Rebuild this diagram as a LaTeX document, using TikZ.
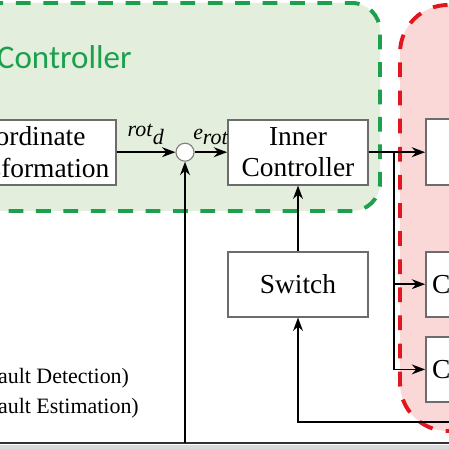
\documentclass[tikz,border=0pt]{standalone}
\usepackage{fontspec}
\setmainfont{Liberation Serif}
\newfontfamily\ctrlfont{Carlito}
\usetikzlibrary{positioning, arrows.meta, shapes.geometric}
\definecolor{ctrlgreen}{RGB}{28,160,78}
\definecolor{ctrlfill}{RGB}{228,238,220}
\definecolor{plantred}{RGB}{226,22,30}
\definecolor{plantfill}{RGB}{251,216,216}
\tikzstyle{block} = [rectangle, minimum width=3.5cm, minimum height=1.625cm, text centered, align=center, draw=gray!85!black, line width=1.2pt, fill=white, font=\fontsize{19.5}{22.7}\selectfont]
\tikzstyle{plantbox} = [block, text width=3.2cm, inner xsep=0.15cm, align=left]
\tikzstyle{sumnode} = [circle, minimum size=0.45cm, inner sep=0pt, draw=gray, line width=0.8pt, fill=white]
\tikzstyle{arrow} = [line width=1.5pt,->,>={Stealth[length=9.5pt,width=7pt]}]
\tikzstyle{thinarrow} = [line width=1.1pt,->,>={Stealth[length=9.5pt,width=7pt]}]
\tikzstyle{note} = [font=\fontsize{15.6}{18}\selectfont]
\tikzstyle{ctrlregion} = [draw=ctrlgreen, fill=ctrlfill, line width=2.8pt, dash pattern=on 10.5pt off 9pt, rounded corners=0.7cm]
\tikzstyle{plantregion} = [draw=plantred, fill=plantfill, line width=2.8pt, dash pattern=on 10.5pt off 9.5pt, rounded corners=1.2cm]
\def\ttx{0.3}

\begin{document}
\begin{tikzpicture}[node distance=3cm]
\useasboundingbox (0,0) rectangle (11.225,11.225);
\clip (0,0) rectangle (11.225,11.225);

% regions
\draw [ctrlregion] (-5,5.95) rectangle (9.5,11.15);
\node (ctrltitle) [anchor=west, text=ctrlgreen, font=\ctrlfont\fontsize{23.5}{27}\selectfont] at (-0.2,9.8) {Controller};
\draw [plantregion] (14,11.1) -- (10,11.1) -- (10,0.45) -- (14,0.45);

\node (sum) [sumnode] at (4.625,7.42) {};
\node (coord) [block, minimum width=4.575cm, left of=sum, xshift=-1.01cm] {Coordinate\\Transformation};
\node (inner) [block, right of=sum, xshift=-0.175cm] {Inner\\Controller};
\node (switch) [block, below of=inner, yshift=-\ttx cm] {Switch};

\node (plant1) [plantbox, minimum height=1.65cm, right of=inner, xshift=1.95cm] {};
\node (plant2) [plantbox, below of=plant1, yshift=-\ttx cm] {C};
\node (plant3) [plantbox, below of=plant2, yshift=0.87cm] {C};

\draw [arrow] (coord) -- node[above, note, yshift=1pt] {\textit{rot}$_{\textit{d}}$} (sum);
\draw [arrow] (sum) -- node[above, note, yshift=1pt] {\textit{e}$_{\textit{rot}}$} (inner);
\draw [arrow] (inner) -- (plant1);
\coordinate [right=0.625cm of inner.east] (branch);
\draw [thinarrow] (branch) |- (plant2);
\draw [thinarrow] (branch) |- (plant3);
\draw [arrow] (switch) -- (inner);
\coordinate (fbright) at (11.5,0.675);
\draw [thinarrow] (fbright) -| (switch);

\node (fd) [note, anchor=west] at (-0.66,1.775) {(Fault Detection)};
\node (fe) [note, anchor=west] at (-0.66,1.025) {(Fault Estimation)};

% bottom bus
\fill [gray!30] (0,0) rectangle (11.225,0.11);
\coordinate (busleft) at (0,0.15);
\coordinate (busright) at (11.225,0.15);
\draw [line width=1.2pt, black!80] (busleft) -- (busright);
\coordinate (busup) at (sum |- busleft);
\draw [arrow] (busup) -- (sum);

\end{tikzpicture}
\end{document}
